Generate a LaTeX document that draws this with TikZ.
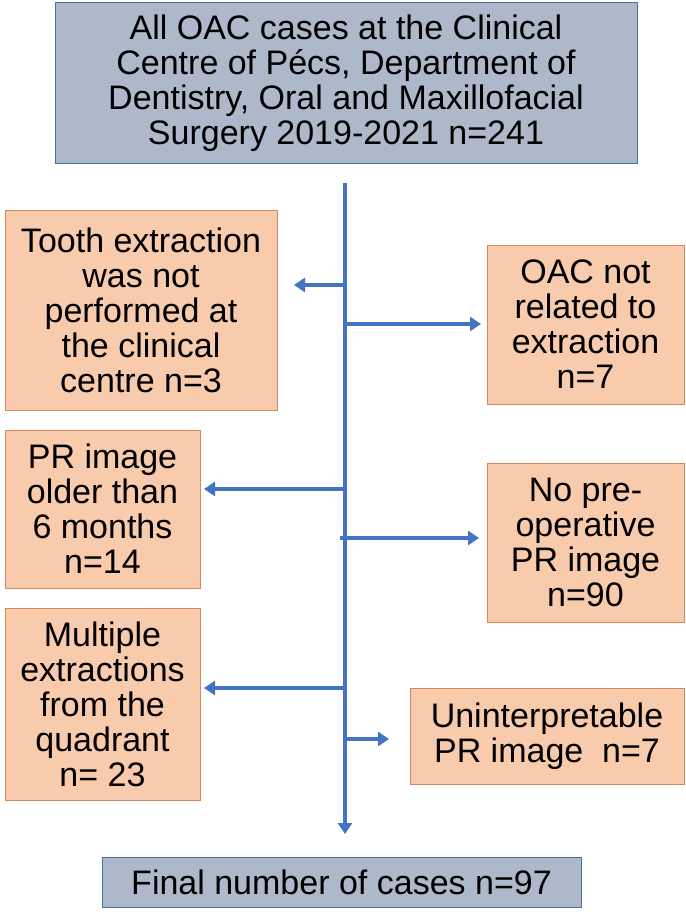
\documentclass[tikz,border=0pt]{standalone}
\usepackage{fontspec}
\setmainfont{Liberation Sans}
\usetikzlibrary{arrows.meta}
\definecolor{bfill}{HTML}{ADB9CA}
\definecolor{bline}{HTML}{41719C}
\definecolor{ofill}{HTML}{F8CBAD}
\definecolor{oline}{HTML}{D5895A}
\definecolor{arr}{HTML}{4472C4}
\begin{document}
\begin{tikzpicture}[x=1pt,y=-1pt,
  box/.style={draw, line width=1pt, align=center, inner sep=0pt, font=\fontsize{34}{35}\selectfont},
  blue/.style={box, fill=bfill, draw=bline},
  orng/.style={box, fill=ofill, draw=oline},
  ar/.style={draw=arr, line width=4pt, -{Triangle[length=11pt,width=14pt]}}]
\useasboundingbox (0,0) rectangle (685,915);
\node[blue, minimum width=582pt, minimum height=160pt] (top) at (346,83) {All OAC cases at the Clinical\\Centre of Pécs, Department of\\Dentistry, Oral and Maxillofacial\\Surgery 2019-2021 n=241};
\node[orng, minimum width=272pt, minimum height=200pt] (a) at (141,310) {Tooth extraction\\was not\\performed at\\the clinical\\centre n=3};
\node[orng, minimum width=197pt, minimum height=159pt] (b) at (585.5,324.5) {OAC not\\related to\\extraction\\n=7};
\node[orng, minimum width=195pt, minimum height=158pt] (c) at (102.5,509) {PR image\\older than\\6 months\\n=14};
\node[orng, minimum width=197pt, minimum height=159pt] (d) at (585.5,542.5) {No pre-\\operative\\PR image\\n=90};
\node[orng, minimum width=195pt, minimum height=192pt] (e) at (102.5,704) {Multiple\\extractions\\from the\\quadrant\\n= 23};
\node[orng, minimum width=274pt, minimum height=96pt] (f) at (547,736) {Uninterpretable\\PR image~~n=7};
\node[blue, minimum width=479pt, minimum height=50pt] (fin) at (341.5,882) {Final number of cases n=97};
\coordinate (s) at (345,183);
\coordinate (t) at (345,834);
\draw[ar] (s) -- (t);
\coordinate (a0) at (343,285); \coordinate (a1) at (294,285);
\draw[ar] (a0) -- (a1);
\coordinate (b0) at (345,324); \coordinate (b1) at (481,324);
\draw[ar] (b0) -- (b1);
\coordinate (c0) at (345,489); \coordinate (c1) at (204,489);
\draw[ar] (c0) -- (c1);
\coordinate (d0) at (340,538); \coordinate (d1) at (479,538);
\draw[ar] (d0) -- (d1);
\coordinate (e0) at (345,688); \coordinate (e1) at (204,688);
\draw[ar] (e0) -- (e1);
\coordinate (f0) at (345,739); \coordinate (f1) at (389,739);
\draw[ar] (f0) -- (f1);
\end{tikzpicture}
\end{document}
